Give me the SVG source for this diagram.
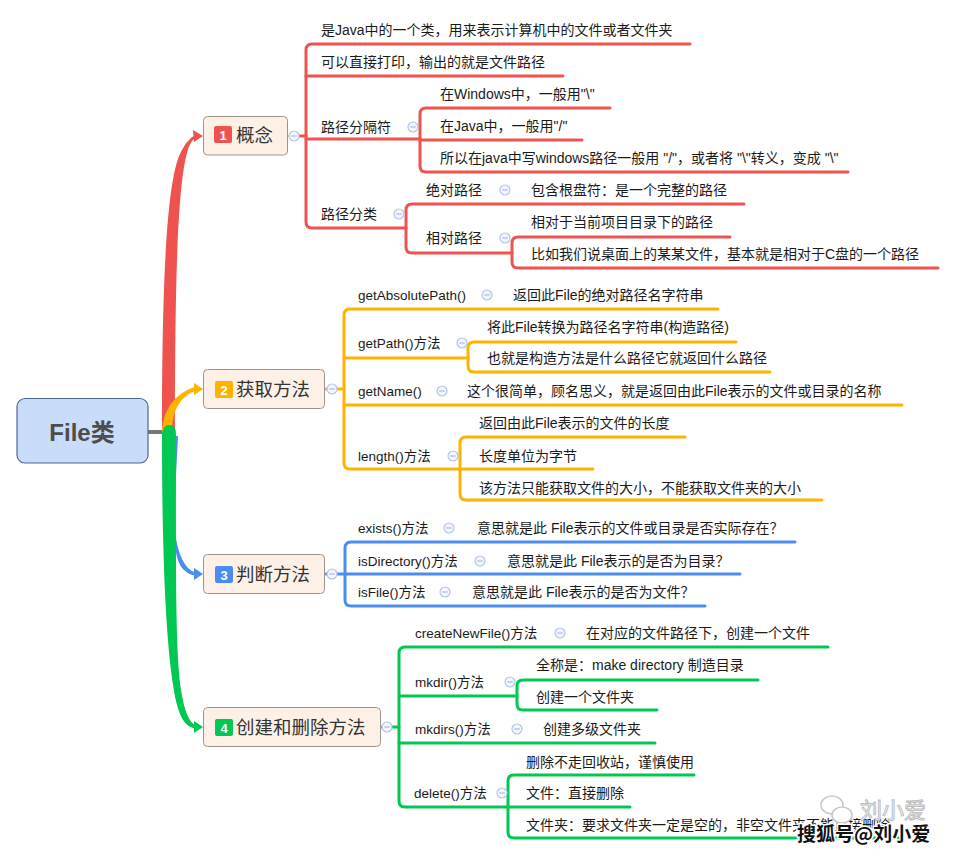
<svg xmlns="http://www.w3.org/2000/svg" width="956" height="856" viewBox="0 0 956 856">
<defs>
<style>
.t{font-family:"Liberation Sans","Noto Sans CJK SC",sans-serif;font-size:14px;fill:#1a1a1a}
.m{font-family:"Liberation Sans","Noto Sans CJK SC",sans-serif;font-size:13.5px;fill:#1a1a1a}
.nl{font-family:"Liberation Sans","Noto Sans CJK SC",sans-serif;font-size:18.5px;fill:#333}
.bn{font-family:"Liberation Sans",sans-serif;font-size:13px;font-weight:bold;fill:#fff;text-anchor:middle}
.node{fill:#fdf1e7;stroke:#9d958d;stroke-width:1}
.ln{fill:none;stroke-width:3;stroke-linecap:round;stroke-linejoin:round}
.r{stroke:#ef5350}.o{stroke:#ffb300}.b{stroke:#4a8cf0}.g{stroke:#00c853}
</style>
<g id="cc">
<circle cx="0" cy="0" r="5" fill="#f3f6fd" stroke="#b4c5ea" stroke-width="1.2"/>
<line x1="-2.8" y1="0" x2="2.8" y2="0" stroke="#a9bce6" stroke-width="1.2"/>
</g>
</defs>
<rect width="956" height="856" fill="#fff"/>

<g id="connectors">
<path d="M148 432 H170" stroke="#777" stroke-width="4" fill="none"/>
<path d="M162 432 C162 290 166 190 179 156 Q186 140 195 135 L195 138.5 Q190 141 187 153 C177 190 175 290 175 432 Z" fill="#ef5350"/>
<polygon points="203,136 193,130 194,142" fill="#ef5350"/>
<path d="M162 432 C163 410 175 393 195 387 L195 391 C181 396 172 410 172 432 Z" fill="#ffb300"/>
<polygon points="203,389 194,383 194,395" fill="#ffb300"/>
<path d="M168 436 C172 520 174 552 188 568 Q192 572 196 572.5 L196 575.5 Q189 575 184 570 C170 556 174 520 178 436 Z" fill="#4a8cf0"/>
<polygon points="203,574 194,568 194,580" fill="#4a8cf0"/>
<path d="M162 434 Q163 425 169 425 Q176 425 176 434 C176 560 175 650 181 690 Q186 722 196 725.5 L196 728.5 Q183 728 177 705 C166 660 162 560 162 434 Z" fill="#00c853"/>
<polygon points="203,727 194,721 194,733" fill="#00c853"/>

<path class="ln r" d="M290 136 H306"/>
<path class="ln r" d="M690 44 H312 Q306 44 306 50 V222 Q306 228 312 228 H406"/>
<path class="ln r" d="M563 76 H306"/>
<path class="ln r" d="M306 139 H420"/>
<path class="ln r" d="M610 108 H426 Q420 108 420 114 V166 Q420 172 426 172 H848"/>
<path class="ln r" d="M420 140 H582"/>
<path class="ln r" d="M744 204 H412 Q406 204 406 210 V247 Q406 253 412 253 H512"/>
<path class="ln r" d="M730 237 H518 Q512 237 512 243 V262 Q512 268 518 268 H938"/>

<path class="ln o" d="M326 389 H344"/>
<path class="ln o" d="M718 309 H350 Q344 309 344 315 V463 Q344 469 350 469 H460"/>
<path class="ln o" d="M344 358 H468"/>
<path class="ln o" d="M736 342 H474 Q468 342 468 348 V366 Q468 372 474 372 H770"/>
<path class="ln o" d="M344 405 H902"/>
<path class="ln o" d="M685 437 H466 Q460 437 460 443 V494 Q460 500 466 500 H822"/>
<path class="ln o" d="M460 469 H593"/>

<path class="ln b" d="M326 574 H345"/>
<path class="ln b" d="M795 542 H351 Q345 542 345 548 V600 Q345 606 351 606 H705"/>
<path class="ln b" d="M345 574 H740"/>

<path class="ln g" d="M382 727 H399"/>
<path class="ln g" d="M828 647 H405 Q399 647 399 653 V801 Q399 807 405 807 H508"/>
<path class="ln g" d="M399 696 H517"/>
<path class="ln g" d="M758 680 H523 Q517 680 517 686 V704 Q517 710 523 710 H657"/>
<path class="ln g" d="M399 743 H655"/>
<path class="ln g" d="M694 775 H514 Q508 775 508 781 V832 Q508 838 514 838 H900"/>
<path class="ln g" d="M508 807 H630"/>
</g>

<g id="root">
<rect x="17" y="398.5" width="131" height="64.5" rx="8" fill="#c9dcf9" stroke="#4f6690" stroke-width="1.2"/>
<text x="82" y="441" text-anchor="middle" style="font-family:'Liberation Sans','Noto Sans CJK SC',sans-serif;font-size:24px;font-weight:bold;fill:#4d4d4d">File类</text>
</g>

<g id="n1">
<rect class="node" x="203.5" y="116.5" width="84" height="38.5" rx="4"/>
<rect x="214" y="126" width="18" height="17" rx="2" fill="#ef5350"/>
<text class="bn" x="223" y="139.5">1</text>
<text class="nl" x="236" y="142">概念</text>
<use href="#cc" x="294" y="136"/>
</g>
<g id="n1a"><text class="t" x="321" y="35">是Java中的一个类，用来表示计算机中的文件或者文件夹</text></g>
<g id="n1b"><text class="t" x="321" y="67">可以直接打印，输出的就是文件路径</text></g>
<g id="n1c"><text class="t" x="321" y="132">路径分隔符</text><use href="#cc" x="413" y="127"/></g>
<g id="n1c1"><text class="t" x="440" y="99">在Windows中，一般用"\"</text></g>
<g id="n1c2"><text class="t" x="440" y="131">在Java中，一般用"/"</text></g>
<g id="n1c3"><text class="t" x="440" y="163">所以在java中写windows路径一般用 "/"，或者将 "\"转义，变成 "\"</text></g>
<g id="n1d"><text class="t" x="321" y="219">路径分类</text><use href="#cc" x="399" y="214"/></g>
<g id="n1d1"><text class="t" x="426" y="195">绝对路径</text><use href="#cc" x="505" y="190"/></g>
<g id="n1d1a"><text class="t" x="531" y="195">包含根盘符：是一个完整的路径</text></g>
<g id="n1d2"><text class="t" x="426" y="243">相对路径</text><use href="#cc" x="505" y="238"/></g>
<g id="n1d2a"><text class="t" x="531" y="227">相对于当前项目目录下的路径</text></g>
<g id="n1d2b"><text class="t" x="531" y="259">比如我们说桌面上的某某文件，基本就是相对于C盘的一个路径</text></g>

<g id="n2">
<rect class="node" x="203.5" y="369.5" width="121" height="39" rx="4"/>
<rect x="215" y="381" width="18" height="17" rx="2" fill="#ffb300"/>
<text class="bn" x="224" y="394.5">2</text>
<text class="nl" x="236" y="396">获取方法</text>
<use href="#cc" x="332" y="389"/>
</g>
<g id="n2a"><text class="m" x="358" y="300">getAbsolutePath()</text><use href="#cc" x="487" y="295"/></g>
<g id="n2a1"><text class="t" x="513" y="300">返回此File的绝对路径名字符串</text></g>
<g id="n2b"><text class="m" x="358" y="348">getPath()方法</text><use href="#cc" x="462" y="343"/></g>
<g id="n2b1"><text class="t" x="487" y="332">将此File转换为路径名字符串(构造路径)</text></g>
<g id="n2b2"><text class="t" x="487" y="363">也就是构造方法是什么路径它就返回什么路径</text></g>
<g id="n2c"><text class="m" x="358" y="396">getName()</text><use href="#cc" x="442" y="391"/></g>
<g id="n2c1"><text class="t" x="467" y="396">这个很简单，顾名思义，就是返回由此File表示的文件或目录的名称</text></g>
<g id="n2d"><text class="m" x="358" y="461">length()方法</text><use href="#cc" x="453" y="456"/></g>
<g id="n2d1"><text class="t" x="479" y="428">返回由此File表示的文件的长度</text></g>
<g id="n2d2"><text class="t" x="479" y="461">长度单位为字节</text></g>
<g id="n2d3"><text class="t" x="479" y="493">该方法只能获取文件的大小，不能获取文件夹的大小</text></g>

<g id="n3">
<rect class="node" x="203.5" y="554.5" width="121" height="39" rx="4"/>
<rect x="215" y="566" width="18" height="17" rx="2" fill="#4a8cf0"/>
<text class="bn" x="224" y="579.5">3</text>
<text class="nl" x="236" y="581">判断方法</text>
<use href="#cc" x="332" y="574"/>
</g>
<g id="n3a"><text class="m" x="358" y="533">exists()方法</text><use href="#cc" x="449" y="528"/></g>
<g id="n3a1"><text class="t" x="477" y="533">意思就是此 File表示的文件或目录是否实际存在？</text></g>
<g id="n3b"><text class="m" x="358" y="566">isDirectory()方法</text><use href="#cc" x="480" y="561"/></g>
<g id="n3b1"><text class="t" x="507" y="566">意思就是此 File表示的是否为目录？</text></g>
<g id="n3c"><text class="m" x="358" y="597">isFile()方法</text><use href="#cc" x="445" y="592"/></g>
<g id="n3c1"><text class="t" x="472" y="597">意思就是此 File表示的是否为文件？</text></g>

<g id="n4">
<rect class="node" x="203.5" y="707.5" width="177" height="39" rx="4"/>
<rect x="215" y="719" width="18" height="17" rx="2" fill="#00c853"/>
<text class="bn" x="224" y="732.5">4</text>
<text class="nl" x="236" y="734">创建和删除方法</text>
<use href="#cc" x="387" y="727"/>
</g>
<g id="n4a"><text class="m" x="415" y="638">createNewFile()方法</text><use href="#cc" x="560" y="633"/></g>
<g id="n4a1"><text class="t" x="586" y="638">在对应的文件路径下，创建一个文件</text></g>
<g id="n4b"><text class="m" x="415" y="687">mkdir()方法</text><use href="#cc" x="510" y="682"/></g>
<g id="n4b1"><text class="t" x="536" y="670">全称是：make directory 制造目录</text></g>
<g id="n4b2"><text class="t" x="536" y="702">创建一个文件夹</text></g>
<g id="n4c"><text class="m" x="415" y="734">mkdirs()方法</text><use href="#cc" x="517" y="729"/></g>
<g id="n4c1"><text class="t" x="543" y="734">创建多级文件夹</text></g>
<g id="n4d"><text class="m" x="414" y="798">delete()方法</text><use href="#cc" x="502" y="793"/></g>
<g id="n4d1"><text class="t" x="526" y="767">删除不走回收站，谨慎使用</text></g>
<g id="n4d2"><text class="t" x="526" y="798">文件：直接删除</text></g>
<g id="n4d3"><text class="t" x="526" y="830">文件夹：要求文件夹一定是空的，非空文件夹不能直接删除</text></g>

<g id="watermark">
<ellipse cx="832" cy="805" rx="11" ry="9" fill="#fff" stroke="#c8c8c8" stroke-width="1.5"/>
<ellipse cx="842" cy="815" rx="10" ry="8" fill="#fff" stroke="#c8c8c8" stroke-width="1.5"/>
<text x="860" y="818" style="font-family:'Noto Sans CJK SC',sans-serif;font-size:22px;fill:#fff;stroke:#bdbdbd;stroke-width:1">刘小爱</text>
<text x="797" y="841" style="font-family:'Noto Sans CJK SC',sans-serif;font-size:19px;font-weight:bold;fill:#111;stroke:#fff;stroke-width:3;paint-order:stroke">搜狐号@刘小爱</text>
</g>
</svg>
